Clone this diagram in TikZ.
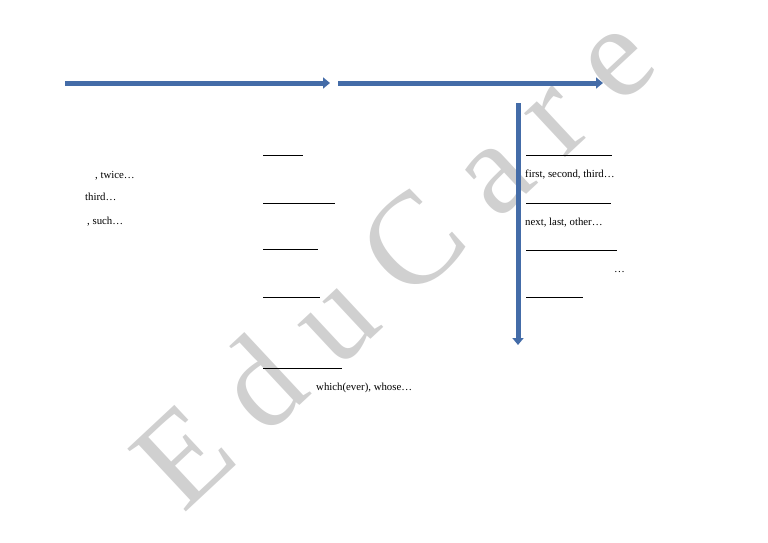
\documentclass[tikz,border=0pt]{standalone}
\usepackage{fontspec}
\setmainfont{Liberation Serif}
\usetikzlibrary{positioning, arrows.meta}
\definecolor{arrowblue}{RGB}{68,108,168}
\definecolor{markgray}{RGB}{208,208,208}

\begin{document}
\begin{tikzpicture}[
         x=1pt, y=-1pt,
         flow/.style={draw=arrowblue, line width=5pt, -{Triangle[length=7pt, width=11pt]}},
         blank/.style={draw=black, line width=0.9pt},
         hint/.style={font=\fontsize{10.8}{13}\selectfont, anchor=base west, inner sep=0pt},
         watermark/.style={font=\fontsize{131}{131}\selectfont, text=markgray, rotate=43}
      ]
         \useasboundingbox (0,0) rectangle (768,543);

         % Watermark behind everything
         \node[watermark] (mark) at (392,258) {E d u C a r e};

         % Ends of the arrows
         \coordinate (start) at (65,83);
         \coordinate (middle) at (330,83);
         \coordinate (resume) at (338,83);
         \coordinate (stop) at (603,83);
         \coordinate (top) at (518,103);
         \coordinate (bottom) at (518,345);

         % Arrows
         \draw[flow] (start) -- (middle);
         \draw[flow] (resume) -- (stop);
         \draw[flow] (top) -- (bottom);

         % Blanks, left column
         \foreach \name/\y/\len in {la/155/40, lb/203/72, lc/249/55, ld/297/57, le/368/79} {
            \coordinate (\name) at (263,\y);
            \draw[blank] (\name) -- ++(\len,0);
         }

         % Blanks, right column
         \foreach \name/\y/\len in {ra/155/86, rb/203/85, rc/250/91, rd/297/57} {
            \coordinate (\name) at (526,\y);
            \draw[blank] (\name) -- ++(\len,0);
         }

         % Hints
         \node[hint] (twice) at (95,178) {, twice…};
         \node[hint] (third) at (85,200) {third…};
         \node[hint] (such) at (87,224) {, such…};
         \node[hint] (first) at (525,177) {first, second, third…};
         \node[hint] (next) at (525,225) {next, last, other…};
         \node[hint] (more) at (614,272) {…};
         \node[hint] (which) at (316,390) {which(ever), whose…};

      \end{tikzpicture}
\end{document}
